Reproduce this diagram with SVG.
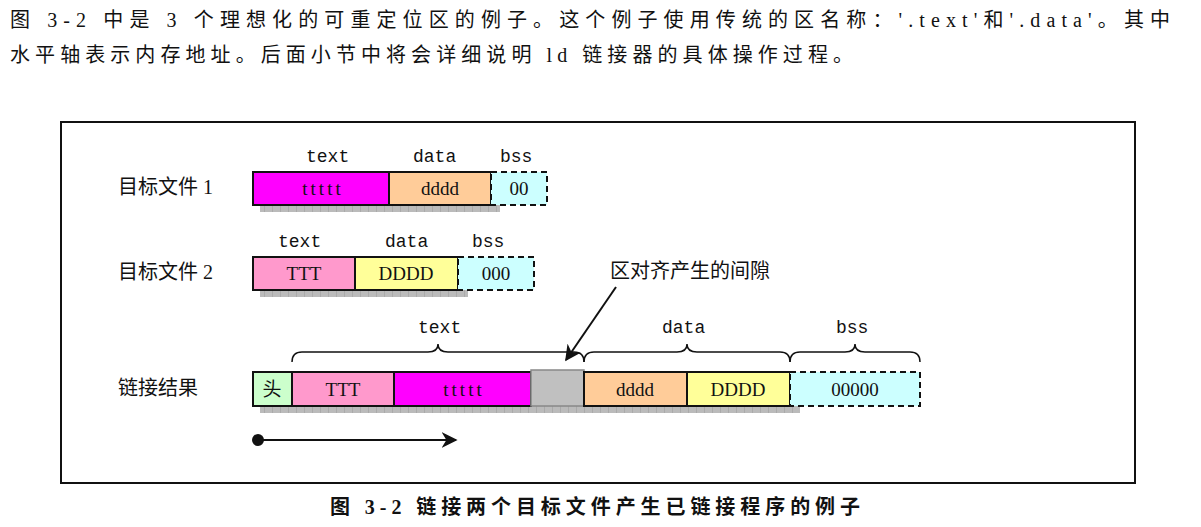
<svg xmlns="http://www.w3.org/2000/svg" width="1201" height="527" viewBox="0 0 1201 527">
<defs>
<style>
.t{font-family:"Liberation Serif","Noto Sans CJK SC",serif;font-size:20px;fill:#111}
.m{font-family:"Liberation Mono","Noto Sans CJK SC",monospace;font-size:18px;fill:#111}
.c{font-family:"Liberation Serif","Noto Sans CJK SC",serif;font-size:19px;fill:#111;text-anchor:middle}
.sp{letter-spacing:3px}
.b{stroke:#111;stroke-width:2}
.d{stroke:#111;stroke-width:2;stroke-dasharray:6,4;fill:#ccffff}
.br{fill:none;stroke:#111;stroke-width:1.5}
</style>
<pattern id="sh" width="8" height="8" patternUnits="userSpaceOnUse"><rect width="8" height="8" fill="#bbb"/><line x1="0" y1="0" x2="0" y2="8" stroke="#999" stroke-width="1"/></pattern>
<marker id="ah" viewBox="0 0 10 10" refX="9" refY="5" markerWidth="8" markerHeight="8" orient="auto"><path d="M0,0 L10,5 L0,10 L3,5 z" fill="#111"/></marker>
</defs>
<rect width="1201" height="527" fill="#fff"/>
<text class="t" x="10" y="27" textLength="1160" lengthAdjust="spacing">图 3-2 中是 3 个理想化的可重定位区的例子。这个例子使用传统的区名称：'.text'和'.data'。其中</text>
<text class="t" x="10" y="62" textLength="843" lengthAdjust="spacing">水平轴表示内存地址。后面小节中将会详细说明 ld 链接器的具体操作过程。</text>
<rect x="61" y="122" width="1074" height="361" fill="none" stroke="#111" stroke-width="2"/>
<g id="obj1">
<text class="t" x="118" y="194">目标文件 1</text>
<text class="m" x="306" y="162">text</text><text class="m" x="413" y="162">data</text><text class="m" x="500" y="162">bss</text>
<rect x="260" y="205" width="240" height="7" fill="url(#sh)"/>
<rect class="b" x="253" y="172" width="136" height="33" fill="#ff00ff"/>
<rect class="b" x="389" y="172" width="102" height="33" fill="#ffcc99"/>
<rect class="d" x="491" y="172" width="56" height="33"/>
<text class="c sp" x="323" y="195">ttttt</text><text class="c" x="440" y="195">dddd</text><text class="c" x="519" y="195">00</text>
</g>
<g id="obj2">
<text class="t" x="118" y="279">目标文件 2</text>
<text class="m" x="278" y="247">text</text><text class="m" x="385" y="247">data</text><text class="m" x="472" y="247">bss</text>
<rect x="260" y="290" width="208" height="7" fill="url(#sh)"/>
<rect class="b" x="253" y="257" width="102" height="33" fill="#ff99cc"/>
<rect class="b" x="355" y="257" width="103" height="33" fill="#ffff99"/>
<rect class="d" x="458" y="257" width="76" height="33"/>
<text class="c" x="304" y="280">TTT</text><text class="c" x="406" y="280">DDDD</text><text class="c" x="496" y="280">000</text>
</g>
<g id="result">
<text class="t" x="118" y="395">链接结果</text>
<text class="m" x="418" y="333">text</text><text class="m" x="662" y="333">data</text><text class="m" x="836" y="333">bss</text>
<rect x="260" y="406" width="540" height="7" fill="url(#sh)"/>
<rect class="b" x="253" y="372" width="39" height="34" fill="#ccffcc"/>
<rect class="b" x="292" y="372" width="102" height="34" fill="#ff99cc"/>
<rect class="b" x="394" y="372" width="137" height="34" fill="#ff00ff"/>
<rect x="531" y="370" width="53" height="36" fill="#c0c0c0" stroke="#888" stroke-width="1.5"/>
<rect class="b" x="584" y="372" width="103" height="34" fill="#ffcc99"/>
<rect class="b" x="687" y="372" width="103" height="34" fill="#ffff99"/>
<rect class="d" x="790" y="372" width="130" height="34"/>
<text class="c" x="272" y="396">头</text><text class="c" x="343" y="396">TTT</text><text class="c sp" x="464" y="396">ttttt</text>
<text class="c" x="635" y="396">dddd</text><text class="c" x="738" y="396">DDDD</text><text class="c" x="855" y="396">00000</text>
</g>
<g id="gaplabel"><text class="t" x="610" y="278">区对齐产生的间隙</text></g>
<g id="connectors">
<path class="br" d="M292,362 Q292,352 302,352 L428,352 Q438,352 438,344 Q438,352 448,352 L574,352 Q584,352 584,362"/>
<path class="br" d="M584,362 Q584,352 594,352 L677,352 Q687,352 687,344 Q687,352 697,352 L780,352 Q790,352 790,362"/>
<path class="br" d="M790,362 Q790,352 800,352 L845,352 Q855,352 855,344 Q855,352 865,352 L910,352 Q920,352 920,362"/>
<line x1="616" y1="287" x2="566" y2="360" stroke="#111" stroke-width="2" marker-end="url(#ah)"/>
<circle cx="258" cy="440" r="6" fill="#111"/>
<line x1="258" y1="440" x2="456" y2="440" stroke="#111" stroke-width="2" marker-end="url(#ah)"/>
</g>
<text class="t" x="595" y="514" text-anchor="middle" font-weight="bold" textLength="530" lengthAdjust="spacing">图 3-2 链接两个目标文件产生已链接程序的例子</text>
</svg>
